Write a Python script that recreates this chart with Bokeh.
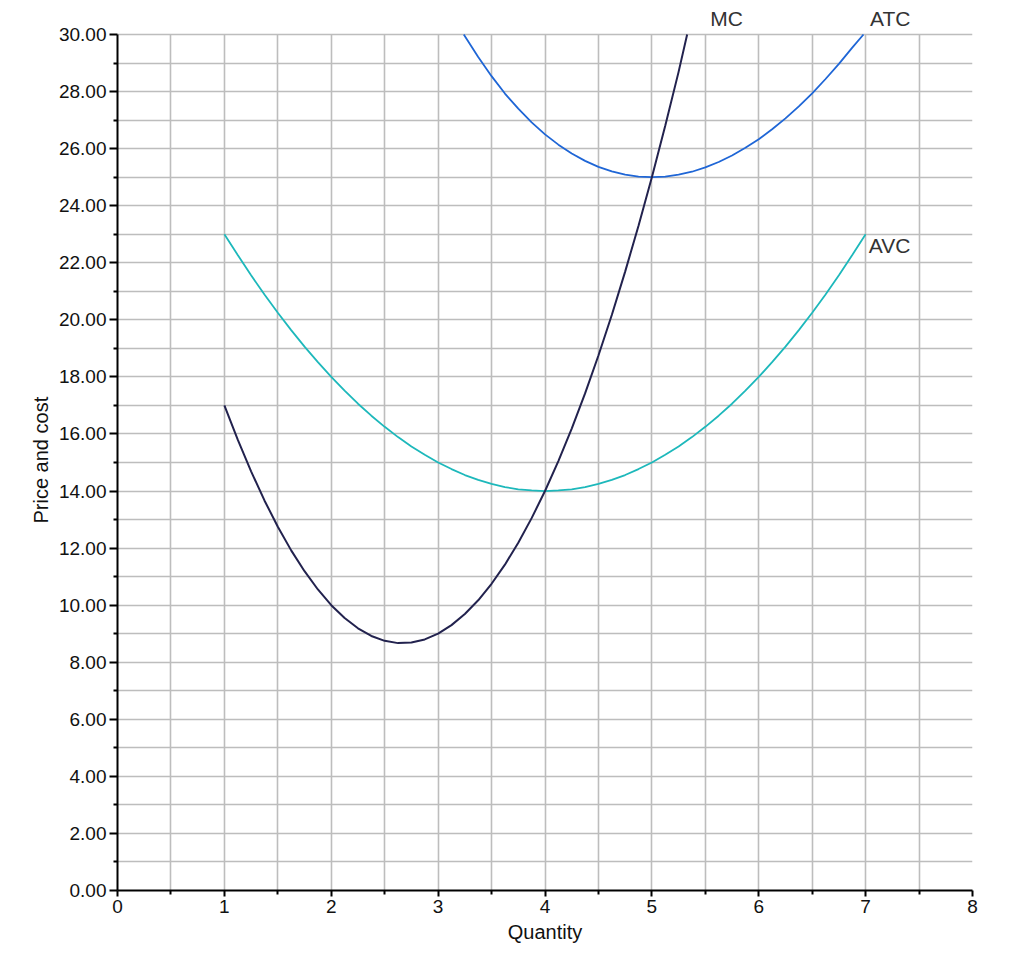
from bokeh.plotting import figure
from bokeh.models import FixedTicker, NumeralTickFormatter, Label, Range1d, Title
from bokeh.embed import file_html
from bokeh.resources import INLINE

# ---- data ----
q_avc = [1, 1.125, 1.25, 1.375, 1.5, 1.625, 1.75, 1.875, 2, 2.125, 2.25, 2.375, 2.5,
         2.625, 2.75, 2.875, 3, 3.125, 3.25, 3.375, 3.5, 3.625, 3.75, 3.875, 4,
         4.125, 4.25, 4.375, 4.5, 4.625, 4.75, 4.875, 5, 5.125, 5.25, 5.375, 5.5,
         5.625, 5.75, 5.875, 6, 6.125, 6.25, 6.375, 6.5, 6.625, 6.75, 6.875, 7]
avc = [23, 22.27, 21.56, 20.89, 20.25, 19.64, 19.06, 18.52, 18, 17.52, 17.06, 16.64, 16.25,
       15.89, 15.56, 15.27, 15, 14.77, 14.56, 14.39, 14.25, 14.14, 14.06, 14.02, 14,
       14.02, 14.06, 14.14, 14.25, 14.39, 14.56, 14.77, 15, 15.27, 15.56, 15.89, 16.25,
       16.64, 17.06, 17.52, 18, 18.52, 19.06, 19.64, 20.25, 20.89, 21.56, 22.27, 23]

q_mc = [1, 1.125, 1.25, 1.375, 1.5, 1.625, 1.75, 1.875, 2, 2.125, 2.25, 2.375, 2.5,
        2.625, 2.75, 2.875, 3, 3.125, 3.25, 3.375, 3.5, 3.625, 3.75, 3.875, 4,
        4.125, 4.25, 4.375, 4.5, 4.625, 4.75, 4.875, 5, 5.125, 5.25, 5.33]
mc = [17, 15.80, 14.69, 13.67, 12.75, 11.92, 11.19, 10.55, 10, 9.55, 9.19, 8.92, 8.75,
      8.67, 8.69, 8.80, 9, 9.30, 9.69, 10.17, 10.75, 11.42, 12.19, 13.05, 14,
      15.05, 16.19, 17.42, 18.75, 20.17, 21.69, 23.30, 25, 26.80, 28.69, 30]

q_atc = [3.24, 3.375, 3.5, 3.625, 3.75, 3.875, 4, 4.125, 4.25, 4.375, 4.5, 4.625, 4.75,
         4.875, 5, 5.125, 5.25, 5.375, 5.5, 5.625, 5.75, 5.875, 6, 6.125, 6.25,
         6.375, 6.5, 6.625, 6.75, 6.875, 6.98]
atc = [30, 29.21, 28.54, 27.93, 27.40, 26.92, 26.5, 26.14, 25.83, 25.57, 25.36, 25.20, 25.09,
       25.02, 25, 25.02, 25.09, 25.19, 25.34, 25.53, 25.76, 26.03, 26.33, 26.68, 27.06,
       27.48, 27.94, 28.44, 28.97, 29.54, 30]

x_major = [0, 1, 2, 3, 4, 5, 6, 7, 8]
x_minor = [0.5, 1.5, 2.5, 3.5, 4.5, 5.5, 6.5, 7.5]
y_major = [0, 2, 4, 6, 8, 10, 12, 14, 16, 18, 20, 22, 24, 26, 28, 30]
y_minor = [1, 3, 5, 7, 9, 11, 13, 15, 17, 19, 21, 23, 25, 27, 29]

curve_labels = ["MC", "ATC", "AVC"]
x_title = "Quantity"
y_title = "Price and cost"

FONT = "Liberation Sans"
Y_MAX = 30

# top of the frame sits a little above 30 so the curve names fit above the grid
p = figure(width=1024, height=953, output_backend="svg", toolbar_location=None,
           x_range=Range1d(0, 8), y_range=Range1d(0, 31.016),
           min_border_left=117, min_border_right=52, min_border_top=5, min_border_bottom=63)
p.outline_line_color = None
p.background_fill_color = "white"

# axes
p.xaxis.ticker = FixedTicker(ticks=x_major, minor_ticks=x_minor)
p.yaxis.ticker = FixedTicker(ticks=y_major, minor_ticks=y_minor)
p.yaxis.formatter = NumeralTickFormatter(format="0.00")
p.yaxis.bounds = (0, Y_MAX)
for ax in (p.xaxis, p.yaxis):
    ax.axis_line_color = "black"
    ax.axis_line_width = 2
    ax.major_tick_line_color = "black"
    ax.major_tick_line_width = 2
    ax.minor_tick_line_color = "black"
    ax.minor_tick_line_width = 2
    ax.major_tick_in = 0
    ax.minor_tick_in = 0
    ax.major_label_text_font = FONT
    ax.major_label_text_font_size = "19px"
    ax.major_label_text_color = "#111111"
    ax.axis_label_text_font = FONT
    ax.axis_label_text_font_size = "20px"
    ax.axis_label_text_font_style = "normal"
    ax.axis_label_text_color = "#111111"
p.xaxis.major_tick_out = 6
p.xaxis.minor_tick_out = 4
p.yaxis.major_tick_out = 8
p.yaxis.minor_tick_out = 4
p.xaxis.major_label_standoff = 3
p.yaxis.major_label_standoff = 3
p.xaxis.axis_label = x_title
p.xaxis.axis_label_standoff = 5

# y-axis title as a side title, placed so it is centred on the 0-30 span
p.add_layout(Title(text=y_title, align="left", offset=367, standoff=8,
                   text_font=FONT, text_font_size="20px", text_font_style="normal",
                   text_color="#111111"), "left")

# grid
GRID_COLOR = "#bdbdbd"
p.ygrid.ticker = FixedTicker(ticks=sorted(y_major + y_minor))
p.ygrid.grid_line_color = GRID_COLOR
p.ygrid.grid_line_width = 1.6
xg = p.xgrid[0]
x_grid_ticks = sorted(x_major + x_minor)
if "cross_bounds" in xg.properties():
    xg.ticker = FixedTicker(ticks=x_grid_ticks)
    xg.cross_bounds = (0, Y_MAX)
    xg.grid_line_color = GRID_COLOR
    xg.grid_line_width = 1.6
else:
    xg.visible = False
    p.segment(x0=x_grid_ticks, y0=[0] * len(x_grid_ticks), x1=x_grid_ticks,
              y1=[Y_MAX] * len(x_grid_ticks), line_color=GRID_COLOR, line_width=1.6,
              level="underlay")

# curves
p.line(q_avc, avc, line_color="#1db8bb", line_width=1.8)
p.line(q_atc, atc, line_color="#1f66d6", line_width=1.8)
p.line(q_mc, mc, line_color="#22224e", line_width=2)

# curve labels
lab_pos = [(5.70, 30.56, "center"), (7.23, 30.56, "center"), (7.03, 22.6, "left")]
for txt, (lx, ly, al) in zip(curve_labels, lab_pos):
    p.add_layout(Label(x=lx, y=ly, text=txt, text_align=al, text_baseline="middle",
                       text_font=FONT, text_font_size="21px", text_color="#333333"))

open("out.html", "w").write(file_html(p, INLINE))
